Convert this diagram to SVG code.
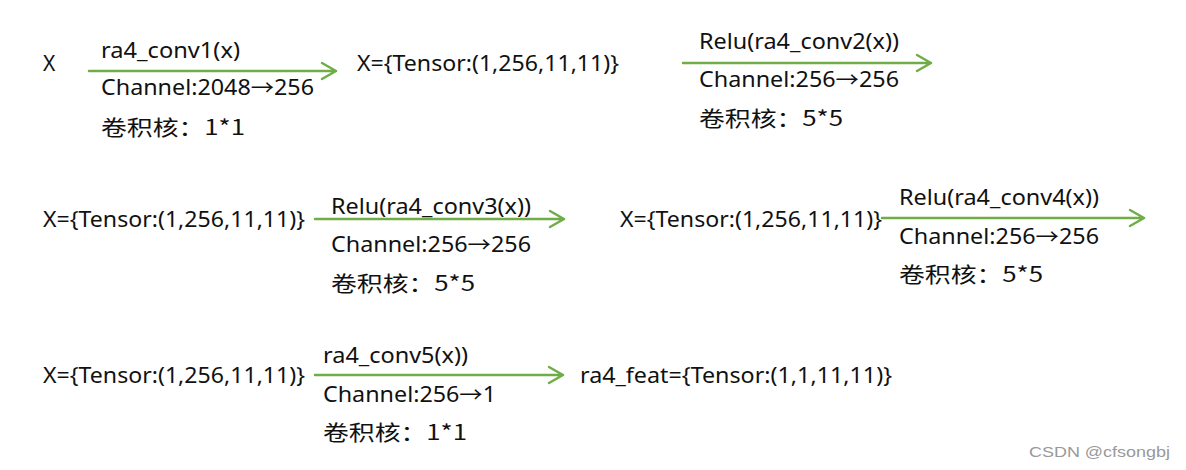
<svg xmlns="http://www.w3.org/2000/svg" width="1186" height="470" viewBox="0 0 1186 470">
<style>
text{font-family:"Noto Sans","Noto Sans CJK SC",sans-serif;font-size:21px;fill:#111}
.cjk{font-family:"Noto Sans CJK SC","Noto Sans",sans-serif}
.wm{font-family:"Liberation Sans",sans-serif;font-size:15px;fill:#999}
.arr{stroke:#70AD47;stroke-width:2.5;fill:none;stroke-linecap:round;stroke-linejoin:round}
</style>
<rect width="1186" height="470" fill="#fff"/>
<g id="connectors">
<path class="arr" d="M89,71 H336 M322,63 L336,71 L322,79"/>
<path class="arr" d="M683,63 H931 M917,55 L931,63 L917,71"/>
<path class="arr" d="M315,219 H564 M550,211 L564,219 L550,227"/>
<path class="arr" d="M882,218 H1144 M1130,210 L1144,218 L1130,226"/>
<path class="arr" d="M315,375 H563 M549,367 L563,375 L549,383"/>
</g>
<g id="node-x"><text x="43" y="71">X</text></g>
<g id="label-conv1">
<text x="101" y="58" textLength="139" lengthAdjust="spacingAndGlyphs">ra4_conv1(x)</text>
<text x="101" y="95" textLength="213" lengthAdjust="spacingAndGlyphs">Channel:2048→256</text>
<text class="cjk" x="101" y="135" textLength="144" lengthAdjust="spacingAndGlyphs">卷积核：1*1</text>
</g>
<g id="node-t1"><text x="357" y="71" textLength="262" lengthAdjust="spacingAndGlyphs">X={Tensor:(1,256,11,11)}</text></g>
<g id="label-conv2">
<text x="699" y="49" textLength="200" lengthAdjust="spacingAndGlyphs">Relu(ra4_conv2(x))</text>
<text x="699" y="87" textLength="200" lengthAdjust="spacingAndGlyphs">Channel:256→256</text>
<text class="cjk" x="699" y="126" textLength="144" lengthAdjust="spacingAndGlyphs">卷积核：5*5</text>
</g>
<g id="node-t2"><text x="43" y="227" textLength="262" lengthAdjust="spacingAndGlyphs">X={Tensor:(1,256,11,11)}</text></g>
<g id="label-conv3">
<text x="331" y="214" textLength="200" lengthAdjust="spacingAndGlyphs">Relu(ra4_conv3(x))</text>
<text x="331" y="252" textLength="200" lengthAdjust="spacingAndGlyphs">Channel:256→256</text>
<text class="cjk" x="331" y="291" textLength="144" lengthAdjust="spacingAndGlyphs">卷积核：5*5</text>
</g>
<g id="node-t3"><text x="620" y="227" textLength="262" lengthAdjust="spacingAndGlyphs">X={Tensor:(1,256,11,11)}</text></g>
<g id="label-conv4">
<text x="899" y="205" textLength="200" lengthAdjust="spacingAndGlyphs">Relu(ra4_conv4(x))</text>
<text x="899" y="244" textLength="200" lengthAdjust="spacingAndGlyphs">Channel:256→256</text>
<text class="cjk" x="899" y="282" textLength="144" lengthAdjust="spacingAndGlyphs">卷积核：5*5</text>
</g>
<g id="node-t4"><text x="43" y="383" textLength="262" lengthAdjust="spacingAndGlyphs">X={Tensor:(1,256,11,11)}</text></g>
<g id="label-conv5">
<text x="323" y="363" textLength="145" lengthAdjust="spacingAndGlyphs">ra4_conv5(x))</text>
<text x="323" y="402" textLength="173" lengthAdjust="spacingAndGlyphs">Channel:256→1</text>
<text class="cjk" x="323" y="440" textLength="144" lengthAdjust="spacingAndGlyphs">卷积核：1*1</text>
</g>
<g id="node-feat"><text x="580" y="383" textLength="312" lengthAdjust="spacingAndGlyphs">ra4_feat={Tensor:(1,1,11,11)}</text></g>
<text class="wm" x="1029" y="457" textLength="141" lengthAdjust="spacingAndGlyphs">CSDN @cfsongbj</text>
</svg>
